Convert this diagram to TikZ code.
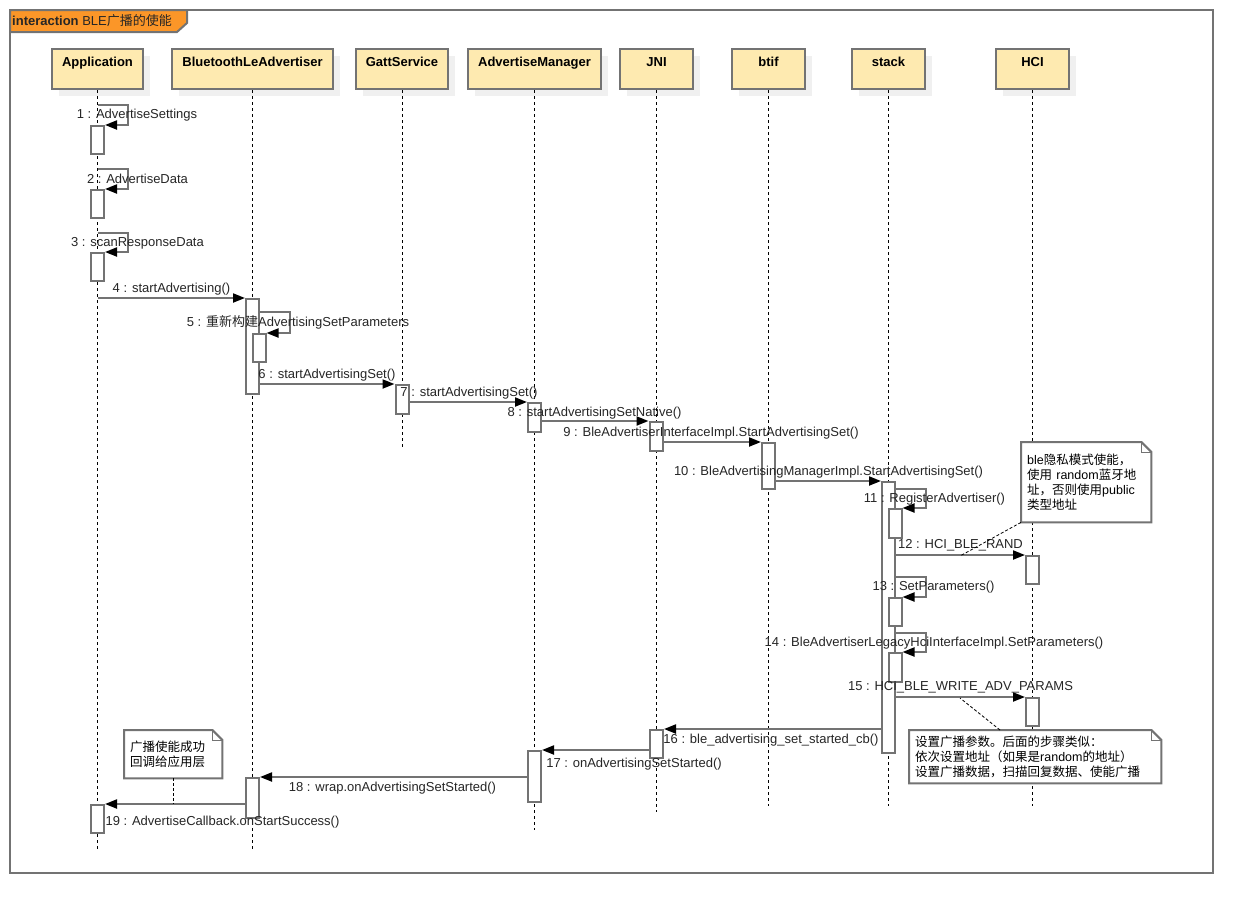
\documentclass[tikz,border=0pt]{standalone}
\usepackage{fontspec}
\setmainfont{Liberation Sans}
\newfontfamily\cjk{Noto Sans CJK SC}
\usetikzlibrary{arrows.meta,shadows}
\definecolor{headfill}{RGB}{254,234,176}
\definecolor{tabfill}{RGB}{251,150,40}
\definecolor{edge}{RGB}{115,115,115}
\tikzset{
  head/.style={draw=edge, line width=2pt, fill=headfill,
    font=\fontsize{13}{15}\selectfont\bfseries, text height=13.5pt, text depth=18.5pt,
    inner ysep=4pt, drop shadow={shadow xshift=7pt, shadow yshift=-7pt, opacity=1, fill=black!6}},
  life/.style={black, line width=0.8pt, dash pattern=on 3pt off 3pt},
  act/.style={draw=edge, line width=2pt, fill=white, minimum width=13pt, inner sep=0pt},
  msg/.style={edge, line width=2pt, -{Triangle[length=12pt,width=9pt,color=black]}},
  lbl/.style={font=\fontsize{13}{15}\selectfont, text=black!85, inner sep=1pt},
  note/.style={anchor=north west, fill=white, font=\fontsize{12.5}{15}\selectfont,
    align=left, inner xsep=6pt, inner ysep=3pt},
  link/.style={black, line width=0.8pt, dash pattern=on 3pt off 2pt}
}
% outline of a note with folded corner
\newcommand{\notebox}[1]{%
  \draw[edge, line width=2pt] (#1.south west) -- (#1.north west) -- ([xshift=-10pt]#1.north east)
    -- ([yshift=-10pt]#1.north east) -- (#1.south east) -- cycle;
  \draw[edge, line width=1pt] ([xshift=-10pt]#1.north east) -- ([xshift=-10pt,yshift=-10pt]#1.north east)
    -- ([yshift=-10pt]#1.north east);}

\begin{document}
\begin{tikzpicture}[x=1pt, y=-1pt]
  \useasboundingbox[fill=white] (0,0) rectangle (1253,914);
  % frame
  \draw[edge, line width=2pt] (10,10) rectangle (1213,873);
  \draw[edge, line width=2pt, fill=tabfill] (10,10) -- (187,10) -- (187,23) -- (177,32) -- (10,32) -- cycle;
  \node[lbl, anchor=west] (title) at (11,21) {\textbf{interaction} BLE{\cjk 广播的使能}};

  % lifeline heads
  \node[head, minimum width=91pt] (app) at (97.5,69) {Application};
  \node[head, minimum width=161pt] (bla) at (252.5,69) {BluetoothLeAdvertiser};
  \node[head, minimum width=92pt] (gatt) at (402,69) {GattService};
  \node[head, minimum width=133pt] (am) at (534.5,69) {AdvertiseManager};
  \node[head, minimum width=73pt] (jni) at (656.5,69) {JNI};
  \node[head, minimum width=73pt] (btif) at (768.5,69) {btif};
  \node[head, minimum width=73pt] (stack) at (888.5,69) {stack};
  \node[head, minimum width=73pt] (hci) at (1032.5,69) {HCI};

  % lifelines
  \draw[life] (app.south) -- (app.south |- 0,850);
  \draw[life] (bla.south) -- (bla.south |- 0,850);
  \draw[life] (gatt.south) -- (gatt.south |- 0,447);
  \draw[life] (am.south) -- (am.south |- 0,830);
  \draw[life] (jni.south) -- (jni.south |- 0,812);
  \draw[life] (btif.south) -- (btif.south |- 0,806);
  \draw[life] (stack.south) -- (stack.south |- 0,806);
  \draw[life] (hci.south) -- (hci.south |- 0,806);

  % activations
  \node[act, minimum height=28pt] (a1) at (97.5,140) {};
  \node[act, minimum height=28pt] (a2) at (97.5,204) {};
  \node[act, minimum height=28pt] (a3) at (97.5,267) {};
  \node[act, minimum height=28pt] (a4) at (97.5,819) {};
  \node[act, minimum height=95pt] (b1) at (252.5,346.5) {};
  \node[act, minimum height=28pt] (b2) at (259,348) {};
  \node[act, minimum height=40pt] (b3) at (252.5,798) {};
  \node[act, minimum height=29pt] (g1) at (402,399.5) {};
  \node[act, minimum height=29pt] (m1) at (534.5,417.5) {};
  \node[act, minimum height=51pt] (m2) at (534.5,776.5) {};
  \node[act, minimum height=29pt] (j1) at (656,436.5) {};
  \node[act, minimum height=28pt] (j2) at (656.5,744) {};
  \node[act, minimum height=46pt] (t1) at (768.5,466) {};
  \node[act, minimum height=271pt] (s1) at (888.5,617.5) {};
  \node[act, minimum height=29pt] (s2) at (895,523.5) {};
  \node[act, minimum height=28pt] (s3) at (895,612) {};
  \node[act, minimum height=29pt] (s4) at (895,667.5) {};
  \node[act, minimum height=28pt] (h1) at (1032.5,570) {};
  \node[act, minimum height=28pt] (h2) at (1032.5,712) {};

  % messages
  \draw[msg] (a1.north) ++(0,-20) -- ++(30,0) |- (a1.north east);
  \draw[msg] (a2.north) ++(0,-20) -- ++(30,0) |- (a2.north east);
  \draw[msg] (a3.north) ++(0,-19) -- ++(30,0) |- (a3.north east);
  \draw[msg] (app |- b1.north) -- (b1.north west);
  \draw[msg] (b2.north -| b1.east) ++(0,-21) -- ++(30,0) |- (b2.north east);
  \draw[msg] (b1.east |- g1.north) -- (g1.north west);
  \draw[msg] (g1.east |- m1.north) -- (m1.north west);
  \draw[msg] (m1.east |- j1.north) -- (j1.north west);
  \draw[msg] (j1.east |- t1.north) -- (t1.north west);
  \draw[msg] (t1.east |- s1.north) -- (s1.north west);
  \draw[msg] (s2.north -| s1.east) ++(0,-19) -- ++(30,0) |- (s2.north east);
  \draw[msg] (s1.east |- h1.north) -- (h1.north west);
  \draw[msg] (s3.north -| s1.east) ++(0,-20) -- ++(30,0) |- (s3.north east);
  \draw[msg] (s4.north -| s1.east) ++(0,-19) -- ++(30,0) |- (s4.north east);
  \draw[msg] (s1.east |- h2.north) -- (h2.north west);
  \draw[msg] (s1.west |- j2.north) -- (j2.north east);
  \draw[msg] (j2.west |- m2.north) -- (m2.north east);
  \draw[msg] (m2.west |- b3.north) -- (b3.north east);
  \draw[msg] (b3.west |- a4.north) -- (a4.north east);

  % message labels
  \node[lbl] (l1) at (137,115) {1 : AdvertiseSettings};
  \node[lbl] (l2) at (137.5,179) {2 : AdvertiseData};
  \node[lbl] (l3) at (137.5,243) {3 : scanResponseData};
  \node[lbl] (l4) at (171.5,289) {4 : startAdvertising()};
  \node[lbl] (l5) at (298,322) {5 : {\cjk 重新构建}AdvertisingSetParameters};
  \node[lbl] (l6) at (327,375) {6 : startAdvertisingSet()};
  \node[lbl] (l7) at (469,393) {7 : startAdvertisingSet()};
  \node[lbl] (l8) at (594.5,413) {8 : startAdvertisingSetNative()};
  \node[lbl] (l9) at (711,433) {9 : BleAdvertiserInterfaceImpl.StartAdvertisingSet()};
  \node[lbl] (l10) at (828.5,472) {10 : BleAdvertisingManagerImpl.StartAdvertisingSet()};
  \node[lbl] (l11) at (934.5,499) {11 : RegisterAdvertiser()};
  \node[lbl] (l12) at (960.5,545) {12 : HCI\_BLE\_RAND};
  \node[lbl] (l13) at (933.5,587) {13 : SetParameters()};
  \node[lbl] (l14) at (934,643) {14 : BleAdvertiserLegacyHciInterfaceImpl.SetParameters()};
  \node[lbl] (l15) at (960.5,687) {15 : HCI\_BLE\_WRITE\_ADV\_PARAMS};
  \node[lbl] (l16) at (771,740) {16 : ble\_advertising\_set\_started\_cb()};
  \node[lbl] (l17) at (634,764) {17 : onAdvertisingSetStarted()};
  \node[lbl] (l18) at (392.5,788) {18 : wrap.onAdvertisingSetStarted()};
  \node[lbl] (l19) at (222.5,822) {19 : AdvertiseCallback.onStartSuccess()};

  % notes
  \node[note, text width=118pt, minimum height=80pt] (note1) at (1021,442)
    {ble{\cjk 隐私模式使能，}\\{\cjk 使用} random{\cjk 蓝牙地}\\{\cjk 址，否则使用}public\\{\cjk 类型地址}};
  \notebox{note1}
  \node[note, text width=240pt, minimum height=53pt] (note2) at (909,730)
    {{\cjk 设置广播参数。后面的步骤类似：}\\{\cjk 依次设置地址（如果是}random{\cjk 的地址）}\\{\cjk 设置广播数据，扫描回复数据、使能广播}};
  \notebox{note2}
  \node[note, text width=86pt, minimum height=48pt] (note3) at (124,730)
    {{\cjk 广播使能成功}\\{\cjk 回调给应用层}};
  \notebox{note3}

  \coordinate (c12) at (960,556);
  \coordinate (c15) at (960,698);
  \draw[link] (note1.south west) -- (c12);
  \draw[link] ([xshift=91pt]note2.north west) -- (c15);
  \draw[link] (note3.south) -- (note3.south |- a4.north);
\end{tikzpicture}
\end{document}
